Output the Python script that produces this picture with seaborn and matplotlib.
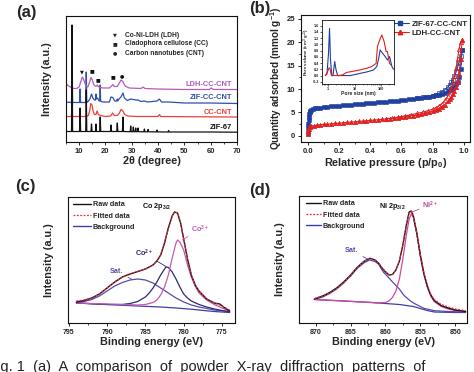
import numpy as np
import pandas as pd
import matplotlib
matplotlib.use('Agg')
import matplotlib.pyplot as plt
import seaborn as sns
from matplotlib.ticker import MultipleLocator, FixedLocator, NullFormatter, NullLocator
from matplotlib.lines import Line2D

sns.set_style('ticks')
plt.rcParams['font.family'] = ['Liberation Sans', 'DejaVu Sans']
plt.rcParams['font.weight'] = 'bold'
plt.rcParams['axes.labelweight'] = 'bold'
plt.rcParams['mathtext.fontset'] = 'custom'
plt.rcParams['mathtext.rm'] = 'Liberation Sans:bold'
plt.rcParams['mathtext.bf'] = 'Liberation Sans:bold'
plt.rcParams['mathtext.it'] = 'Liberation Sans:bold'
plt.rcParams['mathtext.default'] = 'bf'
plt.rcParams['axes.linewidth'] = 0.8
plt.rcParams['axes.edgecolor'] = '#111111'

# ---------------- (a) XRD ----------------
zif67_x = [5, 7.1, 7.3, 7.5, 10.15, 10.35, 10.55, 12.5, 12.7, 12.9, 14.5, 14.7, 14.9, 16.2, 16.4, 16.6,
           17.8, 18.0, 18.2, 21.9, 22.1, 22.3, 24.3, 24.5, 24.7, 26.45, 26.65, 26.85, 29.4, 29.6, 29.8,
           30.4, 30.6, 30.8, 31.3, 31.5, 31.7, 32.2, 32.4, 32.6, 34.6, 34.8, 35.0, 36.0, 36.2, 36.4,
           39.4, 39.6, 39.8, 43.8, 44.0, 44.2, 50, 60, 70]
zif67_y = [10.5, 10.5, 117, 10.5, 10.5, 34, 10.5, 10.5, 52, 10.5, 10.5, 18, 10.5, 10.5, 18, 10.5,
           10.5, 25, 10.5, 10.5, 17, 10.5, 10.5, 19, 10.5, 10.5, 25, 10.5, 10.3, 16, 10.3,
           10.3, 15, 10.3, 10.3, 14, 10.3, 10.3, 14, 10.3, 10.2, 13, 10.2, 10.2, 12.5, 10.2,
           10.1, 12, 10.1, 10, 11.5, 10, 10, 10, 9.8]

cccnt_x = [5, 12.5, 13.5, 14.0, 14.4, 14.9, 15.3, 15.8, 16.4, 16.8, 17.3, 18.0, 20, 22, 22.7, 23.3,
           24.5, 25.3, 25.9, 26.5, 27.3, 28.5, 32, 40, 40.5, 41, 50, 70]
cccnt_y = [25.5, 25.5, 26.5, 31, 38.5, 37, 31, 27.5, 27.5, 31, 27.5, 26.5, 25.5, 26, 29, 26.5,
           26.5, 29, 32.5, 31.5, 27.5, 26, 25.5, 25.5, 27.5, 25.5, 25.3, 25]

zifcc_x = [5, 7.1, 7.3, 7.5, 10.15, 10.35, 10.55, 12.5, 12.7, 12.9, 13.6, 14.2, 14.7, 15.2, 15.8, 16.2,
           16.4, 16.6, 17.0, 17.6, 17.85, 18.0, 18.15, 18.8, 21.5, 22.1, 22.8, 23.5, 24.3, 24.5, 24.7,
           25.3, 25.9, 26.65, 27.2, 28.3, 29.6, 30.6, 31.5, 32.4, 33.5, 34.8, 36, 39.6, 40.5, 41.3,
           44, 50, 60, 70]
zifcc_y = [40, 39.5, 112, 39.5, 39.5, 53, 39.5, 39.5, 70, 39.5, 41, 44, 48, 44, 42, 42,
           48, 43, 44, 41, 41, 57, 41, 40, 40, 45, 44.5, 41, 41, 43, 41,
           43.5, 45, 49, 44, 41.5, 43, 42.5, 42, 42, 40.5, 41, 40, 41, 43, 40,
           40, 39, 39, 38.5]

ldh_x = [5, 6, 7, 8, 9, 10, 10.6, 11.2, 11.8, 12.5, 13.3, 14.0, 14.5, 15.0, 15.6, 16.4, 16.9, 17.5,
         19, 21.5, 22.3, 22.8, 23.4, 24.5, 25.3, 25.9, 26.6, 27.5, 29, 33.5, 34.3, 35, 40, 50,
         59.5, 60.2, 61, 70]
ldh_y = [58.5, 56, 54.5, 53.5, 53.5, 55, 60, 65, 62, 56.5, 55, 60, 64.5, 62, 57, 55.5, 57, 55,
         54, 54, 56, 57.5, 55.5, 55.5, 59, 62, 60.5, 56, 54, 53.5, 55, 53.5, 53, 52.5,
         52.5, 54, 52.5, 52.5]

xrd_labels = ['LDH-CC-CNT', 'ZIF-CC-CNT', 'CC-CNT', 'ZIF-67']
phase_names = ['Co-Ni-LDH (LDH)', 'Cladophora cellulose (CC)', 'Carbon nanotubes (CNT)']
mark_ldh_x, mark_ldh_y = [11.1], [70]
mark_cc_x, mark_cc_y = [14.7, 17.0, 23.0], [71, 62, 65]
mark_cnt_x, mark_cnt_y = [26.4], [66]

# ---------------- (b) isotherms ----------------
zif_ads_p = [0.001, 0.002, 0.003, 0.004, 0.006, 0.008, 0.011, 0.015, 0.02, 0.03, 0.045, 0.06, 0.08, 0.1,
             0.125, 0.15, 0.175, 0.2, 0.225, 0.25, 0.275, 0.3, 0.325, 0.35, 0.375, 0.4, 0.425, 0.45,
             0.475, 0.5, 0.525, 0.55, 0.575, 0.6, 0.625, 0.65, 0.675, 0.7, 0.725, 0.75, 0.775, 0.8,
             0.82, 0.84, 0.86, 0.88, 0.9, 0.91, 0.92, 0.93, 0.94, 0.95, 0.96, 0.97, 0.98, 0.99]
zif_ads_q = [0.6, 1.6, 2.6, 3.4, 4.1, 4.6, 5.0, 5.3, 5.5, 5.65, 5.85, 5.95, 6.05, 6.15,
             6.2, 6.28, 6.36, 6.44, 6.5, 6.57, 6.64, 6.72, 6.8, 6.86, 6.93, 7.0, 7.07, 7.15,
             7.22, 7.3, 7.37, 7.45, 7.52, 7.6, 7.7, 7.8, 7.9, 8.0, 8.1, 8.22, 8.35, 8.5,
             8.65, 8.8, 8.95, 9.2, 9.5, 9.7, 9.95, 10.2, 10.5, 11.0, 11.6, 12.5, 14.2, 18.4]
zif_des_p = [0.99, 0.98, 0.97, 0.96, 0.95, 0.94, 0.93, 0.92, 0.91, 0.9, 0.88, 0.86, 0.84, 0.82, 0.8,
             0.77, 0.74, 0.7]
zif_des_q = [18.4, 17.0, 15.8, 14.6, 13.6, 12.7, 12.0, 11.4, 10.9, 10.5, 9.9, 9.45, 9.1, 8.8, 8.6,
             8.4, 8.2, 8.05]

ldh_ads_p = [0.001, 0.002, 0.004, 0.007, 0.012, 0.02, 0.04, 0.06, 0.08, 0.1, 0.125, 0.15, 0.175, 0.2,
             0.225, 0.25, 0.275, 0.3, 0.325, 0.35, 0.375, 0.4, 0.425, 0.45, 0.475, 0.5, 0.525, 0.55,
             0.575, 0.6, 0.625, 0.65, 0.675, 0.7, 0.725, 0.75, 0.775, 0.8, 0.82, 0.84, 0.86, 0.88,
             0.9, 0.91, 0.92, 0.93, 0.94, 0.95, 0.96, 0.97, 0.98, 0.99]
ldh_ads_q = [0.5, 1.0, 1.5, 1.8, 2.0, 2.1, 2.2, 2.3, 2.38, 2.45, 2.52, 2.58, 2.65, 2.72,
             2.8, 2.87, 2.94, 3.0, 3.08, 3.15, 3.22, 3.3, 3.38, 3.45, 3.53, 3.62, 3.7, 3.8,
             3.9, 4.0, 4.1, 4.22, 4.35, 4.5, 4.65, 4.82, 5.0, 5.25, 5.5, 5.8, 6.2, 6.7,
             7.4, 7.8, 8.3, 8.9, 9.6, 10.4, 11.6, 13.2, 16.5, 20.5]
ldh_des_p = [0.99, 0.98, 0.97, 0.96, 0.95, 0.94, 0.93, 0.92, 0.91, 0.9, 0.88, 0.86, 0.84, 0.82, 0.8,
             0.77, 0.74, 0.7, 0.66, 0.62, 0.58, 0.54, 0.5]
ldh_des_q = [20.5, 20.0, 18.5, 16.5, 14.5, 12.8, 11.4, 10.2, 9.3, 8.6, 7.6, 6.9, 6.4, 6.0, 5.7,
             5.35, 5.1, 4.8, 4.5, 4.25, 4.0, 3.8, 3.68]

iso_labels = ['ZIF-67-CC-CNT', 'LDH-CC-CNT']

# inset pore size distribution
zif_ps = [0.8, 0.92, 1.05, 1.15, 1.25, 1.4, 1.55, 1.8, 2.0, 2.3, 3.0, 5.0, 6.8, 10, 16, 30, 51, 68, 80,
          91, 115, 140, 170, 204, 250, 288]
zif_pv = [0.0, 0.05, 0.7, 1.51, 0.5, 0.0, 0.0, 0.45, 0.2, 0.0, 0.0, 0.0, 0.0, 0.03, 0.07, 0.12, 0.18,
          0.29, 0.55, 0.82, 0.7, 0.61, 0.5, 0.61, 0.29, 0.2]
ldhps = [0.8, 0.95, 1.1, 1.2, 1.35, 1.6, 2.5, 3.5, 5.0, 9, 16, 30, 44, 64, 72, 88, 105, 128, 152, 170,
         204, 229]
ldhpv = [0.0, 0.1, 0.25, 0.22, 0.0, 0.0, 0.0, 0.02, 0.1, 0.14, 0.18, 0.24, 0.29, 0.39, 0.93, 1.15,
         1.3, 1.09, 0.77, 0.77, 0.39, 0.34]

# ---------------- (c) Co 2p ----------------
co_raw_e = [794, 793, 792, 791, 790, 789, 788, 787, 786, 785, 784, 783.5, 783, 782.5, 782, 781.5, 781.2,
            780.8, 780.4, 780, 779.5, 779, 778.5, 778, 777, 776, 775.3, 774.8, 774]
co_raw_i = [21, 22.5, 25, 29, 35, 41, 46, 49, 51.5, 54, 58, 62, 68, 80, 95, 107, 111,
            110, 100, 84, 64, 48, 38, 32, 24, 20, 19, 16, 12]
co_fit_i = [22, 23, 25, 29, 35, 41, 46, 49, 51.5, 54, 58, 62, 68, 80, 95, 107, 111,
            110, 100, 84, 64, 48, 38, 32, 24, 20, 18, 16, 13]
co_bg_e = [794, 790, 786, 783, 781, 779, 777, 776, 774]
co_bg_i = [20, 18.5, 17, 16, 15, 13.8, 12.2, 11.5, 10.5]
co_sat_e = [794, 793, 792, 791, 790, 789, 788, 787, 786, 785, 784, 783, 782, 781, 780, 779, 778, 777,
            776, 774]
co_sat_i = [20.5, 21.5, 23.5, 27, 32, 37, 40.5, 43, 44, 43, 40, 35, 30, 25, 21, 18, 16, 14.5,
            13, 11.5]
co2_e = [794, 790, 788, 787, 786, 785, 784.5, 784, 783.5, 783, 782.5, 782.3, 782, 781.5, 781, 780.5,
         780, 779.5, 779, 778, 777, 776, 774]
co2_i = [20, 18.5, 18.5, 19.5, 21.5, 26, 30, 35, 41, 48, 54, 56, 55.5, 51, 44, 36,
         29, 25, 22, 18.5, 16, 14, 11]
co3_e = [794, 788, 786, 785, 784, 783.5, 783, 782.5, 782, 781.5, 781, 780.8, 780.5, 780, 779.5, 779,
         778.5, 778, 777, 776, 775, 774]
co3_i = [20, 18.5, 18, 18.5, 20.5, 23, 28, 36, 48, 65, 80, 83, 81, 73, 58, 46,
         37, 30, 23, 18.5, 15, 12]

# ---------------- (d) Ni 2p ----------------
ni_raw_e = [870.2, 869, 868, 867, 866, 865, 864, 863, 862.2, 861.5, 861, 860.5, 860, 859.5, 859, 858.5,
            858, 857.5, 857, 856.6, 856.3, 856, 855.5, 855, 854.5, 854, 853.5, 853, 852, 851, 850, 849,
            848.5]
ni_raw_i = [24, 27, 30.5, 35, 41, 48, 56, 62, 64.7, 63, 60, 55, 51, 48, 48.5, 53,
            62, 78, 98, 111, 112, 107, 90, 68, 50, 37, 28, 22.5, 17.5, 15, 13, 12,
            11.5]
ni_fit_i = [24.5, 27, 30, 34.5, 40.5, 48, 56, 62, 64.5, 63, 60, 55.5, 51.5, 48.5, 48.5, 53,
            62, 78, 98, 110, 111.5, 107, 90, 69, 51, 38, 29, 23.5, 18.5, 16, 14, 13,
            12.5]
ni_bg_e = [870.2, 866, 862, 858, 856, 855, 854, 853, 850, 848.5]
ni_bg_i = [23.5, 22, 20.5, 18.5, 16.5, 14.5, 12.5, 11, 10.5, 10.5]
ni_sat_e = [870.2, 869, 868, 867, 866, 865, 864, 863, 862.3, 861.5, 861, 860.3, 859.5, 858.8, 858,
            857.4, 856.5, 855.9, 855, 854.5, 853, 851, 848.5]
ni_sat_i = [23.5, 26, 29.5, 34, 40, 47, 55, 60.5, 63, 61.5, 59, 51, 45, 39.7, 34,
            28, 22.5, 19.7, 16.5, 14.7, 12.3, 11.5, 11]
ni2_e = [870.2, 866, 862, 861, 860, 859.5, 859, 858.5, 858, 857.5, 857, 856.6, 856.3, 856, 855.5, 855,
         854.5, 854, 853.5, 853, 852, 851, 850, 848.5]
ni2_i = [23.5, 22, 20.5, 20, 20.5, 22, 25.5, 32, 44, 64, 88, 104, 109, 106, 89, 67,
         49, 36, 27, 21.5, 16.5, 14, 12.5, 11.5]

# ---------------- figure ----------------
W, H = 474, 372
fig = plt.figure(figsize=(W / 100, H / 100), dpi=100)

def fr(l, t, r, b):
    return [l / W, 1 - b / H, (r - l) / W, (b - t) / H]

ax_a = fig.add_axes(fr(66, 16, 237, 142))
ax_b = fig.add_axes(fr(301, 15, 470, 142))
ax_c = fig.add_axes(fr(68, 197, 235, 323))
ax_d = fig.add_axes(fr(299, 196, 467, 323))

LAB = 7.8
TICK = 5.5

def line(ax, x, y, **kw):
    sns.lineplot(x=x, y=y, ax=ax, estimator=None, sort=False, **kw)

# (a)
c_black, c_red, c_blue, c_purple = '#111111', '#e8403a', '#3050a8', '#b45cb8'
line(ax_a, cccnt_x, cccnt_y, color=c_red, lw=0.9)
line(ax_a, zifcc_x, zifcc_y, color=c_blue, lw=0.9)
line(ax_a, ldh_x, ldh_y, color=c_purple, lw=0.9)
line(ax_a, zif67_x, zif67_y, color=c_black, lw=0.9)
ax_a.set_xlim(5, 70)
ax_a.set_ylim(0, 126)
ax_a.set_yticks([])
ax_a.xaxis.set_major_locator(MultipleLocator(10))
ax_a.xaxis.set_minor_locator(MultipleLocator(5))
ax_a.tick_params(axis='x', which='major', labelsize=TICK, length=2.5, width=0.7, pad=1.5)
ax_a.tick_params(axis='x', which='minor', length=1.5, width=0.6)
ax_a.set_xlabel('2θ (degree)', fontsize=LAB, labelpad=1)
ax_a.set_ylabel('Intensity (a.u.)', fontsize=LAB, labelpad=10)
for s in ax_a.spines.values():
    s.set_visible(True)
for xs, ys, m in [(mark_ldh_x, mark_ldh_y, '▼'), (mark_cc_x, mark_cc_y, '■'), (mark_cnt_x, mark_cnt_y, '●')]:
    for xv, yv in zip(xs, ys):
        ax_a.text(xv, yv, m, fontsize=3.6, ha='center', va='center', color='#111111',
                  family=['DejaVu Sans'])
for yy, m, name in zip([0.849, 0.778, 0.706], ['▼', '■', '●'], phase_names):
    ax_a.text(0.287, yy, m, transform=ax_a.transAxes, fontsize=3.6, ha='center', va='center',
              family=['DejaVu Sans'])
    ax_a.text(0.345, yy, name, transform=ax_a.transAxes, fontsize=4.8, ha='left', va='center')
for lab, yy, col in zip(xrd_labels, [0.46, 0.355, 0.238, 0.119], [c_purple, c_blue, c_red, c_black]):
    ax_a.text(0.971, yy, lab, transform=ax_a.transAxes, fontsize=5.4, ha='right', va='center', color=col)

# (b)
cb, cr = '#2040a0', '#e02020'
line(ax_b, zif_ads_p, zif_ads_q, color=cb, lw=0.8, marker='s', markersize=2.8, markeredgewidth=0.4,
     markeredgecolor=cb)
line(ax_b, zif_des_p, zif_des_q, color=cb, lw=0.8, marker='s', markersize=2.8, markeredgewidth=0.5,
     markerfacecolor='none', markeredgecolor=cb)
line(ax_b, ldh_ads_p, ldh_ads_q, color=cr, lw=0.8, marker='^', markersize=3.2, markeredgewidth=0.4,
     markeredgecolor=cr)
line(ax_b, ldh_des_p, ldh_des_q, color=cr, lw=0.8, marker='^', markersize=3.2, markeredgewidth=0.5,
     markerfacecolor='none', markeredgecolor=cr)
ax_b.set_xlim(-0.045, 1.04)
ax_b.set_ylim(-1.3, 25.8)
ax_b.xaxis.set_major_locator(MultipleLocator(0.2))
ax_b.xaxis.set_minor_locator(MultipleLocator(0.1))
ax_b.yaxis.set_major_locator(MultipleLocator(5))
ax_b.yaxis.set_minor_locator(MultipleLocator(2.5))
ax_b.xaxis.set_major_formatter(plt.FuncFormatter(lambda v, p: f'{v:.1f}'))
ax_b.tick_params(which='major', labelsize=TICK, length=2.5, width=0.7, pad=1.5)
ax_b.tick_params(which='minor', length=1.5, width=0.6)
ax_b.set_xlabel('Relative pressure (p/p$_0$)', fontsize=LAB, labelpad=1)
ax_b.set_ylabel('Quantity adsorbed (mmol g$^{-1}$)', fontsize=7.2, labelpad=2)
hb = [Line2D([], [], color=cb, lw=0.8, marker='s', markersize=2.8),
      Line2D([], [], color=cr, lw=0.8, marker='^', markersize=3.2)]
ax_b.legend(hb, iso_labels, loc='upper right', bbox_to_anchor=(1.0, 0.975), frameon=False,
            fontsize=5.7, handlelength=2.2, handletextpad=0.3, labelspacing=0.2, borderaxespad=0.1,
            borderpad=0.2, numpoints=1)

ax_in = fig.add_axes(fr(322, 20, 394, 84))
line(ax_in, zif_ps, zif_pv, color=cb, lw=0.8)
line(ax_in, ldhps, ldhpv, color=cr, lw=0.8)
ax_in.set_xscale('log')
ax_in.set_xlim(0.6, 300)
ax_in.set_ylim(-0.27, 1.78)
ax_in.xaxis.set_major_locator(FixedLocator([1, 10, 100]))
ax_in.xaxis.set_major_formatter(plt.FuncFormatter(lambda v, p: f'{v:g}'))
ax_in.xaxis.set_minor_formatter(NullFormatter())
ax_in.yaxis.set_major_locator(MultipleLocator(0.2))
ax_in.yaxis.set_major_formatter(plt.FuncFormatter(lambda v, p: f'{v:.1f}'))
ax_in.tick_params(which='major', labelsize=2.7, length=1.2, width=0.5, pad=0.8)
ax_in.tick_params(which='minor', length=0.7, width=0.4)
ax_in.set_xlabel('Pore size (nm)', fontsize=3.6, labelpad=0.5)
ax_in.set_ylabel('Pore volume (cm$^3$ g$^{-1}$)', fontsize=3.2, labelpad=0.8)
for s in ax_in.spines.values():
    s.set_linewidth(0.6)

# (c)
c_raw, c_fit, c_bg = '#1a1010', '#e03040', '#3a40a8'
c_co3, c_co2, c_sat = '#c458b0', '#2a2a78', '#5a4aa8'
line(ax_c, co_bg_e, co_bg_i, color=c_bg, lw=0.9)
line(ax_c, co_sat_e, co_sat_i, color=c_sat, lw=0.9)
line(ax_c, co2_e, co2_i, color=c_co2, lw=0.9)
line(ax_c, co3_e, co3_i, color=c_co3, lw=0.9)
line(ax_c, co_raw_e, co_raw_i, color=c_raw, lw=1.0)
line(ax_c, co_raw_e, co_fit_i, color=c_fit, lw=0.9, linestyle=(0, (1.5, 1.2)))
ax_c.set_xlim(795.1, 773.3)
ax_c.set_ylim(0, 126)

line(ax_d, ni_bg_e, ni_bg_i, color=c_bg, lw=0.9)
line(ax_d, ni_sat_e, ni_sat_i, color=c_sat, lw=0.9)
line(ax_d, ni2_e, ni2_i, color='#d0489c', lw=0.9)
line(ax_d, ni_raw_e, ni_raw_i, color=c_raw, lw=1.0)
line(ax_d, ni_raw_e, ni_fit_i, color=c_fit, lw=0.9, linestyle=(0, (1.5, 1.2)))
ax_d.set_xlim(872.4, 848.3)
ax_d.set_ylim(0, 127)

xps_labels = ['Raw data', 'Fitted data', 'Background']
for ax, hl, anc in [(ax_c, 2.6, (0.01, 0.99)), (ax_d, 2.1, (0.025, 0.99))]:
    ax.set_yticks([])
    ax.xaxis.set_major_locator(MultipleLocator(5))
    ax.xaxis.set_minor_locator(MultipleLocator(2.5))
    ax.tick_params(axis='x', which='major', labelsize=5, length=2.5, width=0.7, pad=1.5)
    ax.tick_params(axis='x', which='minor', length=1.5, width=0.6)
    ax.set_xlabel('Binding energy (eV)', fontsize=LAB, labelpad=1)
    ax.set_ylabel('Intensity (a.u.)', fontsize=LAB, labelpad=10)
    hx = [Line2D([], [], color=c_raw, lw=1.0),
          Line2D([], [], color=c_fit, lw=0.9, linestyle=(0, (1.5, 1.2))),
          Line2D([], [], color=c_bg, lw=1.0)]
    ax.legend(hx, xps_labels, loc='upper left', bbox_to_anchor=anc, frameon=False, fontsize=5.2,
              handlelength=hl, handletextpad=0.2, labelspacing=0.6, borderaxespad=0.1, borderpad=0.3)

AK = dict(fontsize=5.2)
ax_c.text(785.5, 116, 'Co 2p$_{3/2}$', ha='left', va='center', color='#111111', **AK)
ax_c.annotate('Co$^{3+}$', xy=(780.2, 83), xytext=(779.0, 93.5), ha='left', va='center',
              color=c_co3, arrowprops=dict(arrowstyle='-', color=c_co3, lw=0.6,
                                           shrinkA=0, shrinkB=0), **AK)
ax_c.annotate('Co$^{2+}$', xy=(782.3, 56.5), xytext=(786.4, 69.5), ha='left', va='center',
              color=c_co2, arrowprops=dict(arrowstyle='-', color=c_co2, lw=0.6,
                                           shrinkA=1, shrinkB=0), **AK)
ax_c.annotate('Sat.', xy=(786.7, 43.5), xytext=(789.6, 51.5), ha='left', va='center',
              color=c_sat, arrowprops=dict(arrowstyle='-', color=c_sat, lw=0.6,
                                           shrinkA=1, shrinkB=0), **AK)

ax_d.text(860.9, 117, 'Ni 2p$_{3/2}$', ha='left', va='center', color='#111111', **AK)
ax_d.annotate('Ni$^{2+}$', xy=(856.4, 110.5), xytext=(854.7, 118), ha='left', va='center',
              color='#c0489c', arrowprops=dict(arrowstyle='-', color='#c0489c', lw=0.6,
                                               shrinkA=0, shrinkB=0), **AK)
ax_d.annotate('Sat.', xy=(862.4, 63.5), xytext=(865.8, 72), ha='left', va='center',
              color=c_sat, arrowprops=dict(arrowstyle='-', color=c_sat, lw=0.6,
                                           shrinkA=1, shrinkB=0), **AK)

for ax in [ax_a, ax_b, ax_c, ax_d]:
    for s in ax.spines.values():
        s.set_visible(True)
        s.set_linewidth(0.8)

# panel letters
PL = dict(fontsize=12, fontweight='bold', ha='left', va='center')
fig.text(16 / W, 1 - 13 / H, '(a)', **PL)
fig.text(249 / W, 1 - 9 / H, '(b)', **PL)
fig.text(15 / W, 1 - 187 / H, '(c)', **PL)
fig.text(249 / W, 1 - 191 / H, '(d)', **PL)

# clipped caption at the very bottom
fig.text(-12 / W, 1 / H, 'Fig. 1  (a)  A  comparison  of  powder  X-ray  diffraction  patterns  of',
         fontsize=10.5, fontweight='normal', ha='left', va='baseline', color='#222222')

fig.savefig('out.png', dpi=100)
